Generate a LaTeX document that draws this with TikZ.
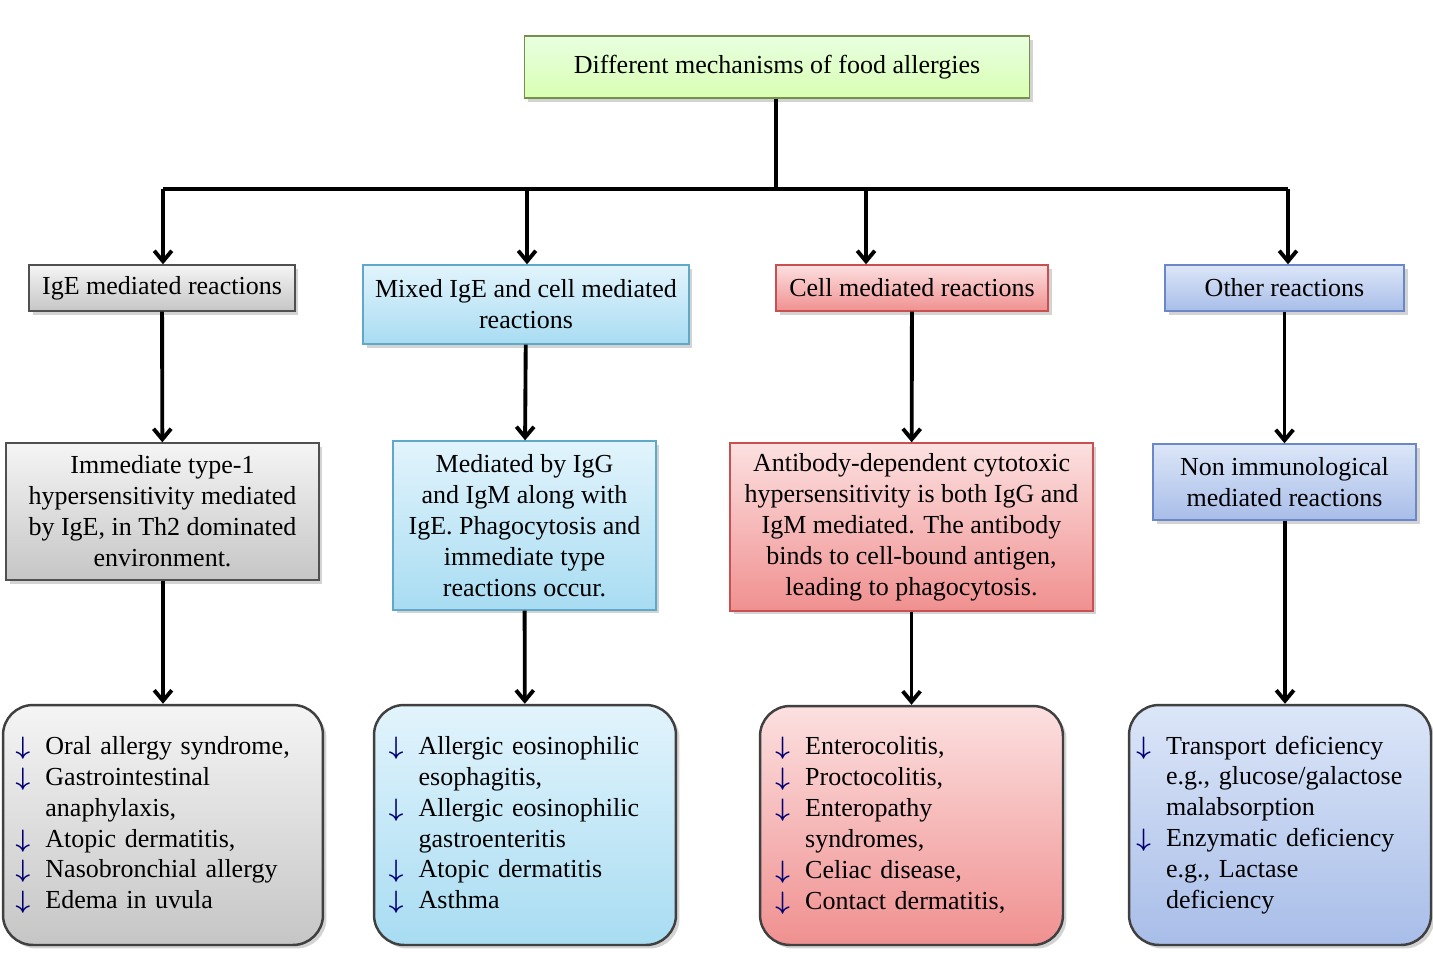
\documentclass[tikz,border=0pt]{standalone}
\usepackage{fontspec}
\setmainfont{Liberation Serif}
\usetikzlibrary{arrows.meta,shadows}
\usepackage{amsmath,bm}
\newcommand{\bl}{\makebox[1.15em][l]{\color{blue!45!black}$\boldsymbol{\downarrow}$}}
\newcommand{\ct}{\hspace*{1.15em}}
\definecolor{gbord}{HTML}{505050}
\definecolor{bbord}{HTML}{5FA8C8}
\definecolor{rbord}{HTML}{C85050}
\definecolor{pbord}{HTML}{6A88C8}
\definecolor{btop}{HTML}{E2F4FC}
\definecolor{bbot}{HTML}{A8DCF2}
\definecolor{rtop}{HTML}{FCE0E0}
\definecolor{rbot}{HTML}{F09090}
\definecolor{ptop}{HTML}{DCE6F8}
\definecolor{pbot}{HTML}{A8BDE8}
\begin{document}
\begin{tikzpicture}[x=0.02cm,y=-0.02cm,
  every node/.style={font=\fontsize{14.8}{17.6}\selectfont, inner sep=2pt, align=center},
  bx/.style={draw=#1, thick, drop shadow={opacity=0.35,shadow xshift=2pt,shadow yshift=-2pt}},
  gr/.style={bx=gbord, top color=gray!8, bottom color=gray!45},
  bu/.style={bx=bbord, top color=btop, bottom color=bbot},
  rd/.style={bx=rbord, top color=rtop, bottom color=rbot},
  pu/.style={bx=pbord, top color=ptop, bottom color=pbot},
  rb/.style={rounded corners=0.6cm, line width=1.4pt, draw=black!75, align=left},
  ar/.style={line width=2.2pt, -{Straight Barb[length=6pt,width=10pt]}}]
\useasboundingbox (0,0) rectangle (1433,962);
\node[bx=yellow!50!green!60!black, top color=yellow!25!green!12, bottom color=yellow!50!green!30, minimum width=10.1cm, minimum height=1.24cm] (top) at (777,67) {Different mechanisms of food allergies};
% level 2
\node[gr, minimum width=5.32cm, minimum height=0.92cm] (a2) at (162,288) {IgE mediated reactions};
\node[bu, minimum width=6.52cm, minimum height=1.58cm] (b2) at (526,304.5) {Mixed IgE and cell mediated\\reactions};
\node[rd, minimum width=5.44cm, minimum height=0.92cm] (c2) at (912,288) {Cell mediated reactions};
\node[pu, minimum width=4.78cm, minimum height=0.92cm] (d2) at (1284.5,288) {Other reactions};
% level 3
\node[gr, minimum width=6.26cm, minimum height=2.74cm] (a3) at (162.5,511.5) {Immediate type-1\\hypersensitivity mediated\\by IgE, in Th2 dominated\\environment.};
\node[bu, minimum width=5.26cm, minimum height=3.38cm] (b3) at (524.5,525.5) {Mediated by IgG\\and IgM along with\\IgE. Phagocytosis and\\immediate type\\reactions occur.};
\node[rd, minimum width=7.26cm, minimum height=3.36cm] (c3) at (911.5,527) {Antibody-dependent cytotoxic\\hypersensitivity is both IgG and\\IgM mediated. The antibody\\binds to cell-bound antigen,\\leading to phagocytosis.};
\node[pu, minimum width=5.26cm, minimum height=1.52cm] (d3) at (1284.5,482) {Non immunological\\mediated reactions};
% level 4
\node[gr, rb, minimum width=6.4cm, minimum height=4.8cm, text width=5.9cm] (a4) at (163,825) {\bl Oral allergy syndrome,\\\bl Gastrointestinal\\\ct anaphylaxis,\\\bl Atopic dermatitis,\\\bl Nasobronchial allergy\\\bl Edema in uvula\\[14pt]};
\node[bu, rb, minimum width=6.04cm, minimum height=4.8cm, text width=5.45cm] (b4) at (525,825) {\bl Allergic eosinophilic\\\ct esophagitis,\\\bl Allergic eosinophilic\\\ct gastroenteritis\\\bl Atopic dermatitis\\\bl Asthma\\[14pt]};
\node[rd, rb, minimum width=6.06cm, minimum height=4.78cm, text width=5.45cm] (c4) at (911.5,825.5) {\bl Enterocolitis,\\\bl Proctocolitis,\\\bl Enteropathy\\\ct syndromes,\\\bl Celiac disease,\\\bl Contact dermatitis,\\[14pt]};
\node[pu, rb, minimum width=6.04cm, minimum height=4.8cm, text width=5.75cm] (d4) at (1280,825) {\bl Transport deficiency\\\ct e.g., glucose/galactose\\\ct malabsorption\\\bl Enzymatic deficiency\\\ct e.g., Lactase\\\ct deficiency\\[14pt]};
% connectors
\coordinate (j) at (776,189);
\coordinate (l) at (163,189);
\coordinate (r) at (1288,189);
\draw[line width=2.2pt] (top.south -| j) -- (j);
\draw[line width=2.2pt] (l) -- (r);
\draw[ar] (l) -- (a2.north -| l);
\draw[ar] (527,189) -- (b2.north -| 527,0);
\draw[ar] (866,189) -- (c2.north -| 866,0);
\draw[ar] (r) -- (d2.north -| r);
\draw[ar] (a2) -- (a3);
\draw[ar] (b2) -- (b3);
\draw[ar] (c2) -- (c3);
\draw[ar] (d2) -- (d3);
\draw[ar] (a3.south -| 163,0) -- (a4.north -| 163,0);
\draw[ar] (b3) -- (b4);
\draw[ar] (c3) -- (c4);
\draw[ar] (d3.south -| 1285,0) -- (d4.north -| 1285,0);
\end{tikzpicture}
\end{document}
